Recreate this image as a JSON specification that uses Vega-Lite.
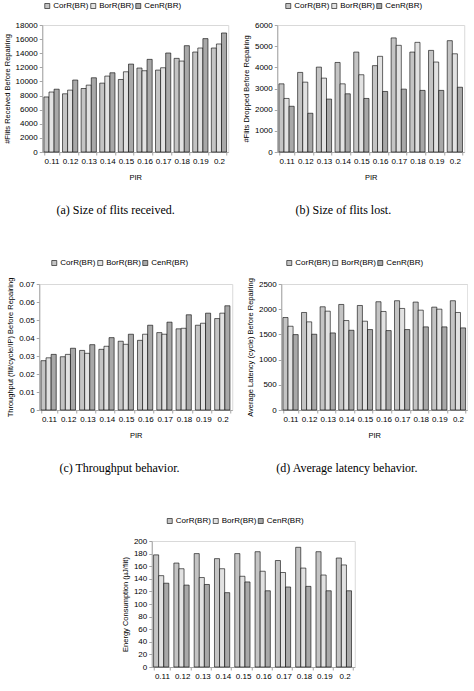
{
  "$schema": "https://vega.github.io/schema/vega-lite/v6.json",
  "padding": {"left": 2, "top": 1, "right": 0, "bottom": 0},
  "background": "white",
  "datasets": {
    "bars": [
      {"panel": "a", "pir": "0.11", "series": "CorR(BR)", "value": 7800},
      {"panel": "a", "pir": "0.11", "series": "BorR(BR)", "value": 8500},
      {"panel": "a", "pir": "0.11", "series": "CenR(BR)", "value": 8900},
      {"panel": "a", "pir": "0.12", "series": "CorR(BR)", "value": 8250},
      {"panel": "a", "pir": "0.12", "series": "BorR(BR)", "value": 8770},
      {"panel": "a", "pir": "0.12", "series": "CenR(BR)", "value": 10200},
      {"panel": "a", "pir": "0.13", "series": "CorR(BR)", "value": 9000},
      {"panel": "a", "pir": "0.13", "series": "BorR(BR)", "value": 9480},
      {"panel": "a", "pir": "0.13", "series": "CenR(BR)", "value": 10520},
      {"panel": "a", "pir": "0.14", "series": "CorR(BR)", "value": 9760},
      {"panel": "a", "pir": "0.14", "series": "BorR(BR)", "value": 10760},
      {"panel": "a", "pir": "0.14", "series": "CenR(BR)", "value": 11230},
      {"panel": "a", "pir": "0.15", "series": "CorR(BR)", "value": 10280},
      {"panel": "a", "pir": "0.15", "series": "BorR(BR)", "value": 11370},
      {"panel": "a", "pir": "0.15", "series": "CenR(BR)", "value": 12460},
      {"panel": "a", "pir": "0.16", "series": "CorR(BR)", "value": 11900},
      {"panel": "a", "pir": "0.16", "series": "BorR(BR)", "value": 11520},
      {"panel": "a", "pir": "0.16", "series": "CenR(BR)", "value": 13130},
      {"panel": "a", "pir": "0.17", "series": "CorR(BR)", "value": 11610},
      {"panel": "a", "pir": "0.17", "series": "BorR(BR)", "value": 11940},
      {"panel": "a", "pir": "0.17", "series": "CenR(BR)", "value": 14030},
      {"panel": "a", "pir": "0.18", "series": "CorR(BR)", "value": 13270},
      {"panel": "a", "pir": "0.18", "series": "BorR(BR)", "value": 12890},
      {"panel": "a", "pir": "0.18", "series": "CenR(BR)", "value": 15070},
      {"panel": "a", "pir": "0.19", "series": "CorR(BR)", "value": 14170},
      {"panel": "a", "pir": "0.19", "series": "BorR(BR)", "value": 14740},
      {"panel": "a", "pir": "0.19", "series": "CenR(BR)", "value": 16070},
      {"panel": "a", "pir": "0.2", "series": "CorR(BR)", "value": 14740},
      {"panel": "a", "pir": "0.2", "series": "BorR(BR)", "value": 15310},
      {"panel": "a", "pir": "0.2", "series": "CenR(BR)", "value": 16870},

      {"panel": "b", "pir": "0.11", "series": "CorR(BR)", "value": 3220},
      {"panel": "b", "pir": "0.11", "series": "BorR(BR)", "value": 2530},
      {"panel": "b", "pir": "0.11", "series": "CenR(BR)", "value": 2160},
      {"panel": "b", "pir": "0.12", "series": "CorR(BR)", "value": 3760},
      {"panel": "b", "pir": "0.12", "series": "BorR(BR)", "value": 3300},
      {"panel": "b", "pir": "0.12", "series": "CenR(BR)", "value": 1830},
      {"panel": "b", "pir": "0.13", "series": "CorR(BR)", "value": 4010},
      {"panel": "b", "pir": "0.13", "series": "BorR(BR)", "value": 3490},
      {"panel": "b", "pir": "0.13", "series": "CenR(BR)", "value": 2500},
      {"panel": "b", "pir": "0.14", "series": "CorR(BR)", "value": 4230},
      {"panel": "b", "pir": "0.14", "series": "BorR(BR)", "value": 3220},
      {"panel": "b", "pir": "0.14", "series": "CenR(BR)", "value": 2750},
      {"panel": "b", "pir": "0.15", "series": "CorR(BR)", "value": 4720},
      {"panel": "b", "pir": "0.15", "series": "BorR(BR)", "value": 3650},
      {"panel": "b", "pir": "0.15", "series": "CenR(BR)", "value": 2530},
      {"panel": "b", "pir": "0.16", "series": "CorR(BR)", "value": 4080},
      {"panel": "b", "pir": "0.16", "series": "BorR(BR)", "value": 4520},
      {"panel": "b", "pir": "0.16", "series": "CenR(BR)", "value": 2860},
      {"panel": "b", "pir": "0.17", "series": "CorR(BR)", "value": 5390},
      {"panel": "b", "pir": "0.17", "series": "BorR(BR)", "value": 5040},
      {"panel": "b", "pir": "0.17", "series": "CenR(BR)", "value": 2970},
      {"panel": "b", "pir": "0.18", "series": "CorR(BR)", "value": 4720},
      {"panel": "b", "pir": "0.18", "series": "BorR(BR)", "value": 5180},
      {"panel": "b", "pir": "0.18", "series": "CenR(BR)", "value": 2910},
      {"panel": "b", "pir": "0.19", "series": "CorR(BR)", "value": 4800},
      {"panel": "b", "pir": "0.19", "series": "BorR(BR)", "value": 4250},
      {"panel": "b", "pir": "0.19", "series": "CenR(BR)", "value": 2910},
      {"panel": "b", "pir": "0.2", "series": "CorR(BR)", "value": 5260},
      {"panel": "b", "pir": "0.2", "series": "BorR(BR)", "value": 4640},
      {"panel": "b", "pir": "0.2", "series": "CenR(BR)", "value": 3060},

      {"panel": "c", "pir": "0.11", "series": "CorR(BR)", "value": 0.0274},
      {"panel": "c", "pir": "0.11", "series": "BorR(BR)", "value": 0.0290},
      {"panel": "c", "pir": "0.11", "series": "CenR(BR)", "value": 0.0309},
      {"panel": "c", "pir": "0.12", "series": "CorR(BR)", "value": 0.0296},
      {"panel": "c", "pir": "0.12", "series": "BorR(BR)", "value": 0.0309},
      {"panel": "c", "pir": "0.12", "series": "CenR(BR)", "value": 0.0343},
      {"panel": "c", "pir": "0.13", "series": "CorR(BR)", "value": 0.0331},
      {"panel": "c", "pir": "0.13", "series": "BorR(BR)", "value": 0.0315},
      {"panel": "c", "pir": "0.13", "series": "CenR(BR)", "value": 0.0363},
      {"panel": "c", "pir": "0.14", "series": "CorR(BR)", "value": 0.0337},
      {"panel": "c", "pir": "0.14", "series": "BorR(BR)", "value": 0.0354},
      {"panel": "c", "pir": "0.14", "series": "CenR(BR)", "value": 0.0402},
      {"panel": "c", "pir": "0.15", "series": "CorR(BR)", "value": 0.0382},
      {"panel": "c", "pir": "0.15", "series": "BorR(BR)", "value": 0.0365},
      {"panel": "c", "pir": "0.15", "series": "CenR(BR)", "value": 0.0421},
      {"panel": "c", "pir": "0.16", "series": "CorR(BR)", "value": 0.0387},
      {"panel": "c", "pir": "0.16", "series": "BorR(BR)", "value": 0.0421},
      {"panel": "c", "pir": "0.16", "series": "CenR(BR)", "value": 0.0471},
      {"panel": "c", "pir": "0.17", "series": "CorR(BR)", "value": 0.0430},
      {"panel": "c", "pir": "0.17", "series": "BorR(BR)", "value": 0.0421},
      {"panel": "c", "pir": "0.17", "series": "CenR(BR)", "value": 0.0488},
      {"panel": "c", "pir": "0.18", "series": "CorR(BR)", "value": 0.0451},
      {"panel": "c", "pir": "0.18", "series": "BorR(BR)", "value": 0.0454},
      {"panel": "c", "pir": "0.18", "series": "CenR(BR)", "value": 0.0529},
      {"panel": "c", "pir": "0.19", "series": "CorR(BR)", "value": 0.0471},
      {"panel": "c", "pir": "0.19", "series": "BorR(BR)", "value": 0.0482},
      {"panel": "c", "pir": "0.19", "series": "CenR(BR)", "value": 0.0538},
      {"panel": "c", "pir": "0.2", "series": "CorR(BR)", "value": 0.0508},
      {"panel": "c", "pir": "0.2", "series": "BorR(BR)", "value": 0.0538},
      {"panel": "c", "pir": "0.2", "series": "CenR(BR)", "value": 0.0579},

      {"panel": "d", "pir": "0.11", "series": "CorR(BR)", "value": 1835},
      {"panel": "d", "pir": "0.11", "series": "BorR(BR)", "value": 1662},
      {"panel": "d", "pir": "0.11", "series": "CenR(BR)", "value": 1496},
      {"panel": "d", "pir": "0.12", "series": "CorR(BR)", "value": 1935},
      {"panel": "d", "pir": "0.12", "series": "BorR(BR)", "value": 1749},
      {"panel": "d", "pir": "0.12", "series": "CenR(BR)", "value": 1503},
      {"panel": "d", "pir": "0.13", "series": "CorR(BR)", "value": 2048},
      {"panel": "d", "pir": "0.13", "series": "BorR(BR)", "value": 1961},
      {"panel": "d", "pir": "0.13", "series": "CenR(BR)", "value": 1529},
      {"panel": "d", "pir": "0.14", "series": "CorR(BR)", "value": 2094},
      {"panel": "d", "pir": "0.14", "series": "BorR(BR)", "value": 1775},
      {"panel": "d", "pir": "0.14", "series": "CenR(BR)", "value": 1582},
      {"panel": "d", "pir": "0.15", "series": "CorR(BR)", "value": 2074},
      {"panel": "d", "pir": "0.15", "series": "BorR(BR)", "value": 1762},
      {"panel": "d", "pir": "0.15", "series": "CenR(BR)", "value": 1596},
      {"panel": "d", "pir": "0.16", "series": "CorR(BR)", "value": 2148},
      {"panel": "d", "pir": "0.16", "series": "BorR(BR)", "value": 1955},
      {"panel": "d", "pir": "0.16", "series": "CenR(BR)", "value": 1576},
      {"panel": "d", "pir": "0.17", "series": "CorR(BR)", "value": 2168},
      {"panel": "d", "pir": "0.17", "series": "BorR(BR)", "value": 2015},
      {"panel": "d", "pir": "0.17", "series": "CenR(BR)", "value": 1596},
      {"panel": "d", "pir": "0.18", "series": "CorR(BR)", "value": 2141},
      {"panel": "d", "pir": "0.18", "series": "BorR(BR)", "value": 1981},
      {"panel": "d", "pir": "0.18", "series": "CenR(BR)", "value": 1649},
      {"panel": "d", "pir": "0.19", "series": "CorR(BR)", "value": 2041},
      {"panel": "d", "pir": "0.19", "series": "BorR(BR)", "value": 2001},
      {"panel": "d", "pir": "0.19", "series": "CenR(BR)", "value": 1649},
      {"panel": "d", "pir": "0.2", "series": "CorR(BR)", "value": 2168},
      {"panel": "d", "pir": "0.2", "series": "BorR(BR)", "value": 1935},
      {"panel": "d", "pir": "0.2", "series": "CenR(BR)", "value": 1629},

      {"panel": "e", "pir": "0.11", "series": "CorR(BR)", "value": 178},
      {"panel": "e", "pir": "0.11", "series": "BorR(BR)", "value": 145},
      {"panel": "e", "pir": "0.11", "series": "CenR(BR)", "value": 133},
      {"panel": "e", "pir": "0.12", "series": "CorR(BR)", "value": 165},
      {"panel": "e", "pir": "0.12", "series": "BorR(BR)", "value": 156},
      {"panel": "e", "pir": "0.12", "series": "CenR(BR)", "value": 130},
      {"panel": "e", "pir": "0.13", "series": "CorR(BR)", "value": 180},
      {"panel": "e", "pir": "0.13", "series": "BorR(BR)", "value": 142},
      {"panel": "e", "pir": "0.13", "series": "CenR(BR)", "value": 131},
      {"panel": "e", "pir": "0.14", "series": "CorR(BR)", "value": 172},
      {"panel": "e", "pir": "0.14", "series": "BorR(BR)", "value": 156},
      {"panel": "e", "pir": "0.14", "series": "CenR(BR)", "value": 118},
      {"panel": "e", "pir": "0.15", "series": "CorR(BR)", "value": 180},
      {"panel": "e", "pir": "0.15", "series": "BorR(BR)", "value": 144},
      {"panel": "e", "pir": "0.15", "series": "CenR(BR)", "value": 135},
      {"panel": "e", "pir": "0.16", "series": "CorR(BR)", "value": 183},
      {"panel": "e", "pir": "0.16", "series": "BorR(BR)", "value": 152},
      {"panel": "e", "pir": "0.16", "series": "CenR(BR)", "value": 121},
      {"panel": "e", "pir": "0.17", "series": "CorR(BR)", "value": 169},
      {"panel": "e", "pir": "0.17", "series": "BorR(BR)", "value": 150},
      {"panel": "e", "pir": "0.17", "series": "CenR(BR)", "value": 127},
      {"panel": "e", "pir": "0.18", "series": "CorR(BR)", "value": 190},
      {"panel": "e", "pir": "0.18", "series": "BorR(BR)", "value": 157},
      {"panel": "e", "pir": "0.18", "series": "CenR(BR)", "value": 128},
      {"panel": "e", "pir": "0.19", "series": "CorR(BR)", "value": 183},
      {"panel": "e", "pir": "0.19", "series": "BorR(BR)", "value": 146},
      {"panel": "e", "pir": "0.19", "series": "CenR(BR)", "value": 121},
      {"panel": "e", "pir": "0.2", "series": "CorR(BR)", "value": 173},
      {"panel": "e", "pir": "0.2", "series": "BorR(BR)", "value": 162},
      {"panel": "e", "pir": "0.2", "series": "CenR(BR)", "value": 121}
    ]
  },
  "data": {"name": "bars"},
  "spacing": 42,
  "center": true,
  "resolve": {"scale": {"y": "independent"}, "legend": {"color": "independent"}},
  "vconcat": [
    {
      "spacing": 12,
      "resolve": {"scale": {"y": "independent"}, "legend": {"color": "independent"}},
      "hconcat": [
        {
          "width": 186,
          "height": 127,
          "title": {"text": "(a) Size of flits received."},
          "transform": [{"filter": "datum.panel == 'a'"}],
          "mark": {"type": "bar", "stroke": "black", "strokeWidth": 0.6},
          "encoding": {
            "x": {"field": "pir", "type": "nominal", "title": "PIR", "scale": {"paddingInner": 0.18, "paddingOuter": 0.09}},
            "xOffset": {"field": "series", "sort": ["CorR(BR)", "BorR(BR)", "CenR(BR)"]},
            "y": {
              "field": "value",
              "type": "quantitative",
              "title": "#Flits  Received Before Repairing",
              "scale": {"domain": [0, 18000]},
              "axis": {"values": [0, 2000, 4000, 6000, 8000, 10000, 12000, 14000, 16000, 18000], "format": "d"}
            },
            "color": {
              "field": "series",
              "scale": {"domain": ["CorR(BR)", "BorR(BR)", "CenR(BR)"], "range": ["#c4c4c4", "#e2e2e2", "#a8a8a8"]},
              "legend": {"title": null, "legendX": 1, "legendY": -23}
            }
          }
        },
        {
          "width": 187,
          "height": 127,
          "title": {"text": "(b) Size of flits lost.", "dx": -10},
          "transform": [{"filter": "datum.panel == 'b'"}],
          "mark": {"type": "bar", "stroke": "black", "strokeWidth": 0.6},
          "encoding": {
            "x": {"field": "pir", "type": "nominal", "title": "PIR", "scale": {"paddingInner": 0.18, "paddingOuter": 0.09}},
            "xOffset": {"field": "series", "sort": ["CorR(BR)", "BorR(BR)", "CenR(BR)"]},
            "y": {
              "field": "value",
              "type": "quantitative",
              "title": "#Flits Dropped Before Repairing",
              "scale": {"domain": [0, 6000]},
              "axis": {"values": [0, 1000, 2000, 3000, 4000, 5000, 6000], "format": "d"}
            },
            "color": {
              "field": "series",
              "scale": {"domain": ["CorR(BR)", "BorR(BR)", "CenR(BR)"], "range": ["#c4c4c4", "#e2e2e2", "#a8a8a8"]},
              "legend": {"title": null, "legendX": 7, "legendY": -23}
            }
          }
        }
      ]
    },
    {
      "spacing": 12,
      "resolve": {"scale": {"y": "independent"}, "legend": {"color": "independent"}},
      "hconcat": [
        {
          "width": 193,
          "height": 126,
          "title": {"text": "(c) Throughput behavior."},
          "transform": [{"filter": "datum.panel == 'c'"}],
          "mark": {"type": "bar", "stroke": "black", "strokeWidth": 0.6},
          "encoding": {
            "x": {"field": "pir", "type": "nominal", "title": "PIR", "scale": {"paddingInner": 0.18, "paddingOuter": 0.09}},
            "xOffset": {"field": "series", "sort": ["CorR(BR)", "BorR(BR)", "CenR(BR)"]},
            "y": {
              "field": "value",
              "type": "quantitative",
              "title": "Throughput (flit/cycle/IP) Before Repairing",
              "scale": {"domain": [0, 0.07]},
              "axis": {"values": [0, 0.01, 0.02, 0.03, 0.04, 0.05, 0.06, 0.07], "format": "~g"}
            },
            "color": {
              "field": "series",
              "scale": {"domain": ["CorR(BR)", "BorR(BR)", "CenR(BR)"], "range": ["#c4c4c4", "#e2e2e2", "#a8a8a8"]},
              "legend": {"title": null, "legendX": 11, "legendY": -25}
            }
          }
        },
        {
          "width": 186,
          "height": 126,
          "title": {"text": "(d) Average latency behavior.", "dx": -10},
          "transform": [{"filter": "datum.panel == 'd'"}],
          "mark": {"type": "bar", "stroke": "black", "strokeWidth": 0.6},
          "encoding": {
            "x": {"field": "pir", "type": "nominal", "title": "PIR", "scale": {"paddingInner": 0.18, "paddingOuter": 0.09}},
            "xOffset": {"field": "series", "sort": ["CorR(BR)", "BorR(BR)", "CenR(BR)"]},
            "y": {
              "field": "value",
              "type": "quantitative",
              "title": "Average Latency (cycle) Before Repairing",
              "scale": {"domain": [0, 2500]},
              "axis": {"values": [0, 500, 1000, 1500, 2000, 2500], "format": "d"}
            },
            "color": {
              "field": "series",
              "scale": {"domain": ["CorR(BR)", "BorR(BR)", "CenR(BR)"], "range": ["#c4c4c4", "#e2e2e2", "#a8a8a8"]},
              "legend": {"title": null, "legendX": 4, "legendY": -25}
            }
          }
        }
      ]
    },
    {
      "width": 203,
      "height": 126,
      "transform": [{"filter": "datum.panel == 'e'"}],
      "mark": {"type": "bar", "stroke": "black", "strokeWidth": 0.6},
      "encoding": {
        "x": {"field": "pir", "type": "nominal", "title": null, "scale": {"paddingInner": 0.18, "paddingOuter": 0.09}},
        "xOffset": {"field": "series", "sort": ["CorR(BR)", "BorR(BR)", "CenR(BR)"]},
        "y": {
          "field": "value",
          "type": "quantitative",
          "title": "Energy Consumption (µJ/flit)",
          "scale": {"domain": [0, 200]},
          "axis": {"values": [0, 20, 40, 60, 80, 100, 120, 140, 160, 180, 200], "format": "d"}
        },
        "color": {
          "field": "series",
          "scale": {"domain": ["CorR(BR)", "BorR(BR)", "CenR(BR)"], "range": ["#c4c4c4", "#e2e2e2", "#a8a8a8"]},
          "legend": {"title": null, "legendX": 14, "legendY": -24}
        }
      }
    }
  ],
  "config": {
    "font": "Liberation Sans",
    "view": {"stroke": "#d9d9d9", "strokeWidth": 1},
    "axis": {
      "grid": false,
      "labelFontSize": 8,
      "labelColor": "black",
      "titleFontSize": 7.5,
      "titleFontWeight": "normal",
      "titleColor": "black",
      "domainColor": "#a6a6a6",
      "tickColor": "#a6a6a6",
      "tickSize": 3,
      "labelPadding": 2,
      "titlePadding": 4
    },
    "axisX": {"labelAngle": 0, "tickBand": "extent", "titlePadding": 8},
    "legend": {
      "orient": "none",
      "direction": "horizontal",
      "labelFontSize": 8,
      "labelColor": "black",
      "symbolType": "square",
      "symbolSize": 25,
      "symbolStrokeColor": "black",
      "symbolStrokeWidth": 0.6,
      "labelOffset": 2,
      "columnPadding": 0,
      "padding": 0
    },
    "title": {
      "font": "Liberation Serif",
      "fontSize": 12,
      "fontWeight": "normal",
      "color": "black",
      "orient": "bottom",
      "anchor": "middle",
      "frame": "bounds",
      "offset": 24
    },
    "bar": {"stroke": "black"}
  }
}
